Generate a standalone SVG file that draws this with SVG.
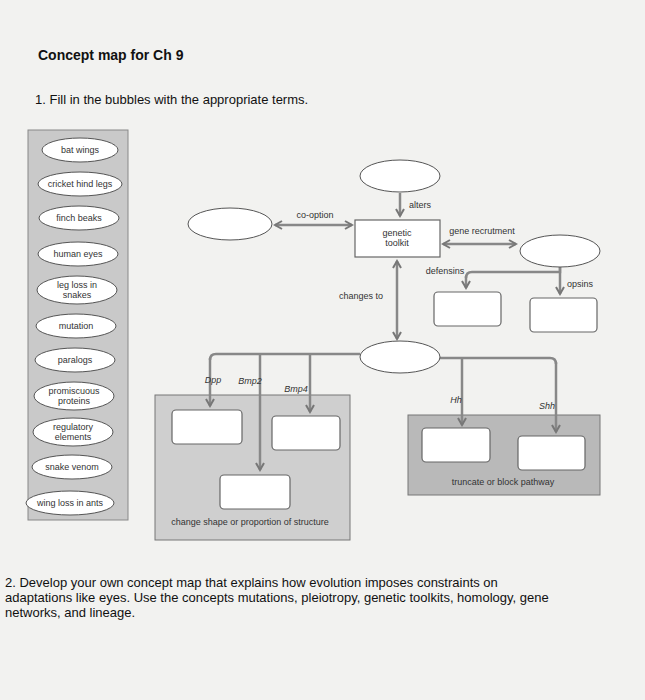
<svg xmlns="http://www.w3.org/2000/svg" width="645" height="700" viewBox="0 0 645 700">
<defs>
<marker id="ah" viewBox="0 0 10 10" refX="8" refY="5" markerWidth="4" markerHeight="4" orient="auto-start-reverse"><path d="M1,1 L8,5 L1,9" fill="none" stroke="#777" stroke-width="2"/></marker>
<style>
.bub{fill:#fff;stroke:#555;stroke-width:1}
.lbl{font-family:"Liberation Sans",sans-serif;font-size:9px;fill:#333;text-anchor:middle}
.ln{fill:none;stroke:#888;stroke-width:2.5}
.ar{fill:none;stroke:#888;stroke-width:2.5;marker-end:url(#ah)}
.bi{fill:none;stroke:#888;stroke-width:2.5;marker-end:url(#ah);marker-start:url(#ah)}
.box{fill:#fff;stroke:#666;stroke-width:1.2}
.it{font-style:italic}
.q{font-family:"Liberation Sans",sans-serif;font-size:13px;fill:#111}
</style>
</defs>
<rect width="645" height="700" fill="#f2f2f0"/>
<text x="38" y="60" font-family="Liberation Sans,sans-serif" font-size="14" font-weight="bold" fill="#111">Concept map for Ch 9</text>
<text x="35" y="104" class="q" font-size="14">1. Fill in the bubbles with the appropriate terms.</text>
<g id="termlist">
<rect x="28" y="130" width="100" height="390" fill="#c9c9c9" stroke="#888"/>
<g id="t1"><ellipse class="bub" cx="80" cy="150" rx="38" ry="12"/><text class="lbl" x="80" y="153">bat wings</text></g>
<g id="t2"><ellipse class="bub" cx="80" cy="184" rx="42" ry="12"/><text class="lbl" x="80" y="187">cricket hind legs</text></g>
<g id="t3"><ellipse class="bub" cx="79" cy="218" rx="40" ry="12"/><text class="lbl" x="79" y="221">finch beaks</text></g>
<g id="t4"><ellipse class="bub" cx="78" cy="254" rx="40" ry="12"/><text class="lbl" x="78" y="257">human eyes</text></g>
<g id="t5"><ellipse class="bub" cx="77" cy="290" rx="40" ry="14"/><text class="lbl" x="77" y="288">leg loss in</text><text class="lbl" x="77" y="298">snakes</text></g>
<g id="t6"><ellipse class="bub" cx="76" cy="326" rx="40" ry="12"/><text class="lbl" x="76" y="329">mutation</text></g>
<g id="t7"><ellipse class="bub" cx="75" cy="360" rx="40" ry="12"/><text class="lbl" x="75" y="363">paralogs</text></g>
<g id="t8"><ellipse class="bub" cx="74" cy="396" rx="40" ry="14"/><text class="lbl" x="74" y="394">promiscuous</text><text class="lbl" x="74" y="404">proteins</text></g>
<g id="t9"><ellipse class="bub" cx="73" cy="432" rx="40" ry="14"/><text class="lbl" x="73" y="430">regulatory</text><text class="lbl" x="73" y="440">elements</text></g>
<g id="t10"><ellipse class="bub" cx="72" cy="467" rx="40" ry="12"/><text class="lbl" x="72" y="470">snake venom</text></g>
<g id="t11"><ellipse class="bub" cx="70" cy="503" rx="44" ry="12"/><text class="lbl" x="70" y="506">wing loss in ants</text></g>
</g>
<g id="panels">
<rect x="155" y="395" width="195" height="145" fill="#cfcfcf" stroke="#777"/>
<rect x="408" y="415" width="192" height="80" fill="#b9b9b9" stroke="#777"/>
</g>
<g id="connectors">
<path class="ar" d="M400,193 V216"/>
<text class="lbl" x="420" y="208">alters</text>
<path class="bi" d="M275,225 H352"/>
<text class="lbl" x="315" y="218">co-option</text>
<path class="bi" d="M443,244 H516"/>
<text class="lbl" x="482" y="234">gene recrutment</text>
<path class="bi" d="M397,261 V339"/>
<text class="lbl" x="361" y="299">changes to</text>
<path class="ln" d="M560,267 V272 H472 Q466,272 466,278"/>
<path class="ar" d="M466,276 V288"/>
<path class="ar" d="M560,267 V294"/>
<text class="lbl" x="445" y="274">defensins</text>
<text class="lbl" x="580" y="287">opsins</text>
<path class="ln" d="M360,354 H216 Q210,354 210,360"/>
<path class="ar" d="M210,358 V406"/>
<path class="ar" d="M260,354 V470"/>
<path class="ar" d="M310,354 V412"/>
<path class="ln" d="M440,358 H550 Q556,358 556,364"/>
<path class="ar" d="M462,358 V425"/>
<path class="ar" d="M556,362 V432"/>
<text class="lbl it" x="213" y="383" text-anchor="start">Dpp</text>
<text class="lbl it" x="250" y="384" text-anchor="start">Bmp2</text>
<text class="lbl it" x="296" y="392" text-anchor="start">Bmp4</text>
<text class="lbl it" x="456" y="403" text-anchor="start">Hh</text>
<text class="lbl it" x="547" y="409" text-anchor="start">Shh</text>
</g>
<g id="n_top"><ellipse class="bub" cx="400" cy="176" rx="40" ry="16"/></g>
<g id="n_left"><ellipse class="bub" cx="230" cy="224" rx="42" ry="16"/></g>
<g id="n_toolkit"><rect class="box" x="355" y="220" width="85" height="37"/><text class="lbl" x="397" y="236">genetic</text><text class="lbl" x="397" y="246">toolkit</text></g>
<g id="n_right"><ellipse class="bub" cx="560" cy="251" rx="40" ry="16"/></g>
<g id="n_def"><rect class="box" x="434" y="292" width="67" height="34" rx="4"/></g>
<g id="n_ops"><rect class="box" x="530" y="298" width="67" height="34" rx="4"/></g>
<g id="n_center"><ellipse class="bub" cx="400" cy="357" rx="40" ry="16"/></g>
<g id="n_b1"><rect class="box" x="172" y="410" width="70" height="34" rx="4"/></g>
<g id="n_b2"><rect class="box" x="272" y="416" width="68" height="34" rx="4"/></g>
<g id="n_b3"><rect class="box" x="220" y="475" width="70" height="34" rx="4"/></g>
<g id="n_b4"><rect class="box" x="422" y="428" width="68" height="34" rx="4"/></g>
<g id="n_b5"><rect class="box" x="518" y="436" width="67" height="34" rx="4"/></g>
<text class="lbl" x="250" y="525">change shape or proportion of structure</text>
<text class="lbl" x="503" y="485">truncate or block pathway</text>
<text class="q" x="5" y="587">2. Develop your own concept map that explains how evolution imposes constraints on</text>
<text class="q" x="5" y="602">adaptations like eyes. Use the concepts mutations, pleiotropy, genetic toolkits, homology, gene</text>
<text class="q" x="5" y="617">networks, and lineage.</text>
</svg>
